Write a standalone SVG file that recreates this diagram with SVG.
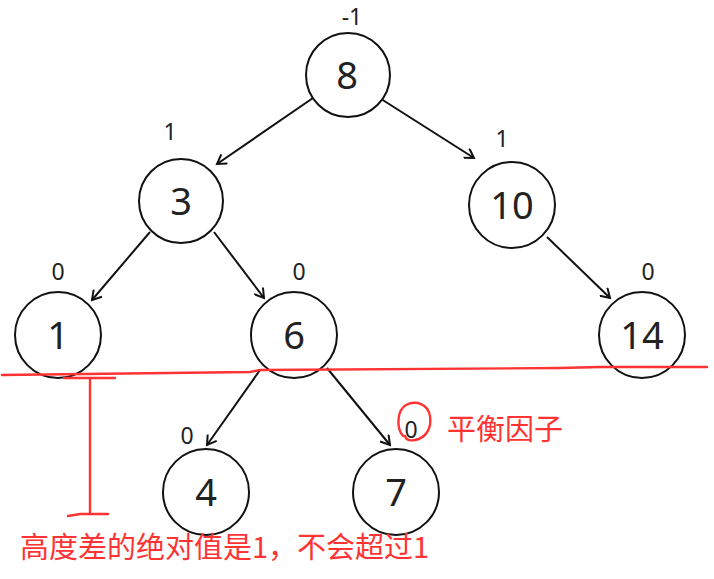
<svg xmlns="http://www.w3.org/2000/svg" width="714" height="579" viewBox="0 0 714 579">
<style>
.n circle{fill:#fff;stroke:#111;stroke-width:2}
.n text{font-family:"Noto Sans","DejaVu Sans",sans-serif;font-size:38px;fill:#222;text-anchor:middle}
.f{font-family:"Noto Sans","DejaVu Sans",sans-serif;font-size:23px;fill:#222;text-anchor:middle}
.e line{stroke:#111;stroke-width:2;marker-end:url(#a)}
.r{fill:none;stroke:#f33;stroke-width:2.4;stroke-linecap:round}
.rt{font-family:"Noto Sans CJK SC","Noto Sans",sans-serif;fill:#f33}
</style>
<defs>
<marker id="a" viewBox="0 0 12 12" refX="10" refY="6" markerWidth="12" markerHeight="12" markerUnits="userSpaceOnUse" orient="auto">
<path d="M1,0.5 L10,6 L1,11.5" fill="none" stroke="#111" stroke-width="2"/>
</marker>
</defs>
<g id="edges" class="e">
<line x1="313" y1="98" x2="217" y2="164"/>
<line x1="378" y1="97" x2="474" y2="158"/>
<line x1="150" y1="232" x2="92" y2="300"/>
<line x1="214" y1="232" x2="264" y2="298"/>
<line x1="547" y1="237" x2="610" y2="298"/>
<line x1="260" y1="370" x2="207" y2="445"/>
<line x1="327" y1="368" x2="390" y2="445"/>
</g>
<g id="n8" class="n"><circle cx="348" cy="75" r="42"/><text x="347" y="89">8</text></g>
<g id="n3" class="n"><circle cx="181" cy="201" r="42"/><text x="181" y="215">3</text></g>
<g id="n10" class="n"><circle cx="512" cy="205" r="43"/><text x="512" y="219">10</text></g>
<g id="n1" class="n"><circle cx="58" cy="335" r="43"/><text x="58" y="349">1</text></g>
<g id="n6" class="n"><circle cx="294" cy="335" r="43"/><text x="294" y="349">6</text></g>
<g id="n14" class="n"><circle cx="642" cy="335" r="43"/><text x="642" y="349">14</text></g>
<g id="n4" class="n"><circle cx="206" cy="492" r="43"/><text x="206" y="506">4</text></g>
<g id="n7" class="n"><circle cx="396" cy="492" r="43"/><text x="396" y="506">7</text></g>
<g id="factors">
<text class="f" x="352" y="25">-1</text>
<text class="f" x="170" y="140">1</text>
<text class="f" x="502" y="147">1</text>
<text class="f" x="58" y="280">0</text>
<text class="f" x="299" y="280">0</text>
<text class="f" x="648" y="280">0</text>
<text class="f" x="187" y="444">0</text>
<text class="f" x="411" y="438">0</text>
</g>
<g id="annotations">
<path class="r" d="M2,375 Q150,373 250,372 L260,370 Q450,369 560,368 L600,367 L707,367"/>
<path class="r" d="M64,378 L115,378 M90,378 L90,514 M68,516 L80,514 L108,514"/>
<path class="r" d="M403,436 C396,428 397,410 406,405 C416,400 428,404 430,416 C432,428 426,438 415,440 C410,441 406,440 405,436"/>
<text class="rt" x="447" y="440" font-size="29">平衡因子</text>
<text class="rt" x="20" y="558" font-size="29">高度差的绝对值是1，不会超过1</text>
</g>
</svg>
